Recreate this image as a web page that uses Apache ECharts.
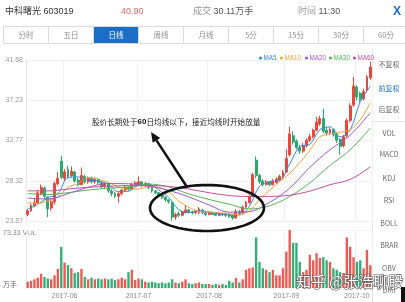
<!DOCTYPE html>
<html><head><meta charset="utf-8">
<script src="https://cdn.jsdelivr.net/npm/echarts@6/dist/echarts.min.js"></script>
<style>html,body{margin:0;padding:0;background:#fff}#c{width:405px;height:302px}</style>
</head><body><div id="c"></div>
<script>
// ---- categories (trading days) ----
const holidays = ['2017-05-29','2017-05-30','2017-10-02','2017-10-03','2017-10-04','2017-10-05','2017-10-06'];
const dates = [];
for (let t = Date.UTC(2017,4,15); t <= Date.UTC(2017,9,13); t += 86400000) {
  const d = new Date(t), wd = d.getUTCDay(), s = d.toISOString().slice(0,10);
  if (wd === 0 || wd === 6 || holidays.includes(s)) continue;
  dates.push(s);
}
// ---- price data ----
const opens  = [24.6,25.0,25.6,25.9,26.9,27.5,26.5,25.3,26.0,28.0,30.5,
  28.6,29.6,28.9,29.3,28.4,27.9,28.8,28.2,28.6,28.2,28.5,28.1,27.7,28.0,27.2,26.9,26.6,26.9,27.3,27.6,27.4,27.9,
  27.9,28.2,27.8,28.0,27.6,27.2,27.0,26.7,26.5,26.2,25.9,24.3,24.7,24.5,24.8,25.1,24.9,24.8,24.8,25.1,24.8,
  24.6,24.8,24.7,24.5,24.7,24.7,24.6,24.5,24.2,24.9,24.8,25.4,25.9,26.6,30.6,28.9,28.3,27.9,28.2,27.9,28.1,28.4,28.8,
  29.3,31.2,33.3,32.7,32.0,31.6,32.2,32.8,33.2,33.9,34.6,35.2,33.9,33.6,34.0,33.5,32.9,32.2,33.3,35.0,36.7,38.7,38.0,37.4,38.3,39.7];
const closes = [25.0,25.6,25.9,27.0,27.6,26.6,25.2,26.0,28.0,28.6,28.7,
  29.3,28.8,29.4,28.3,27.9,28.9,28.2,28.6,28.2,28.5,28.1,27.7,28.0,27.2,26.9,26.6,26.9,27.3,27.6,27.4,27.9,28.1,
  28.2,27.8,28.0,27.6,27.2,27.0,26.7,26.5,26.2,26.0,24.3,24.6,24.5,24.9,25.1,24.9,24.8,25.0,25.2,24.8,24.6,
  24.8,24.6,24.5,24.7,24.6,24.5,24.4,24.2,24.9,24.7,25.4,25.9,26.6,29.0,28.9,28.2,27.9,28.2,27.9,28.3,28.5,28.8,29.3,
  30.8,33.5,32.6,32.0,31.6,32.2,32.8,33.2,33.9,34.8,35.2,33.8,33.6,34.0,33.4,32.8,32.1,33.2,35.0,36.6,38.8,37.6,37.3,38.2,39.8,40.9];
const highs  = [25.2,25.8,26.3,27.3,27.9,27.7,26.6,26.4,28.2,29.3,31.1,
  29.6,30.0,29.9,29.4,28.6,29.8,29.0,28.8,28.8,28.7,28.6,28.3,28.2,28.1,27.4,27.1,27.1,27.4,27.8,27.7,28.1,28.3,
  28.8,28.3,28.2,28.1,27.7,27.3,27.1,26.8,26.6,26.3,26.0,24.8,24.9,25.0,25.6,25.2,25.0,25.1,25.4,25.2,24.9,
  24.9,24.9,24.8,24.9,24.8,24.8,24.7,24.6,25.2,25.1,25.6,26.1,26.8,29.2,31.0,29.1,28.5,28.4,28.3,28.5,28.7,29.0,29.5,
  31.8,34.3,33.8,32.9,32.3,32.5,33.0,33.5,34.1,35.4,35.5,36.3,34.3,34.2,34.1,33.7,33.0,33.4,35.2,36.9,39.8,38.9,38.2,38.5,40.0,41.5];
const lows   = [24.4,24.9,25.4,25.8,26.7,26.3,24.3,25.0,25.7,27.8,28.5,
  28.3,28.6,28.7,28.1,27.7,27.8,28.0,28.0,28.0,28.0,27.9,27.5,27.5,27.0,26.6,26.4,25.9,26.7,27.1,27.2,27.3,27.7,
  27.7,27.6,27.6,27.4,27.0,26.8,26.5,26.3,26.0,25.8,23.9,24.0,24.3,24.4,24.7,24.7,24.6,24.6,24.6,24.6,24.4,
  24.5,24.5,24.4,24.4,24.4,24.3,24.2,24.0,24.1,24.5,24.7,25.3,25.8,26.5,28.6,28.0,27.7,27.8,27.7,27.8,28.0,28.3,28.6,
  29.2,31.0,32.3,31.8,31.3,31.4,32.0,32.6,33.0,33.8,34.4,33.6,33.3,33.4,33.2,32.5,31.2,32.0,33.1,34.8,36.5,37.2,37.0,37.2,38.1,39.5];
// ---- volume (万手) ----
const volumes = [8,9,11,13,18,14,12,11,16,24,52,
  32,29,25,19,20,24,14,11,13,11,12,11,12,11,12,10,11,13,11,20,23,10,
  12,11,8,7,8,7,6,7,6,7,11,7,6,8,11,6,5,6,7,5,5,
  5,4,5,4,5,4,9,7,12.6,7,11,23,25,26,64,33,25,23,20,23,16,16,25,
  46,73.33,57,57,33,20,23,42,35,44,38,39,35,33,25,23,20,19,64,52,39,33,35,25,48,29];
// ---- moving averages read at sampled days ----
const maIdx3 = [0,3,6,9,12,15,18,21,24,27,30,33,36,39,42,45,48,51,54,57,60,63,66,69,72,75,78,81,84,87,90,93,96,99,102];
const ma5  = [25.2,25.7,26.46,26.88,28.68,28.74,28.38,28.32,27.9,27.12,27.16,27.84,27.94,27.3,26.48,25.12,24.8,25.0,24.88,24.64,24.54,24.54,25.5,27.72,28.22,28.34,30.18,32.1,32.36,33.98,34.28,33.18,33.94,37.06,38.76];
const ma10 = [25.9,25.8,26.1,26.55,27.58,28.02,28.67,28.49,28.13,27.67,27.37,27.41,27.68,27.59,27.12,26.06,25.37,24.93,24.86,24.79,24.67,24.59,24.99,26.22,27.27,28.23,29.14,30.33,31.68,33.18,33.51,33.68,33.97,35.08,36.95];
const maIdx6 = [0,6,12,18,24,30,36,42,48,54,60,66,72,78,84,90,96,102];
const ma20 = [26.4,26.3,26.9,27.6,28.01,27.99,27.74,27.26,26.53,25.64,24.85,24.91,25.93,27.5,29.81,31.75,33.36,35.85];
const ma30 = [26.9,26.8,27.0,27.3,27.5,27.63,27.96,27.63,26.86,26.25,25.73,25.2,25.55,26.58,28.09,30.02,31.74,34.15];
const ma60 = [27.2,27.2,27.4,27.6,27.7,27.8,27.8,27.7,27.4,27.0,26.68,26.58,26.59,26.72,27.17,27.88,28.47,29.85];
// ---- axis ticks ----
const priceMin = 23.87, priceMax = 41.68;
const priceTicks = ['23.87','28.32','32.77','37.23','41.68'];
const volMax = 73.33;
const maNames = ['MA5','MA10','MA20','MA30','MA60'];
const tabs = ['分时','五日','日线','周线','月线','5分','15分','30分','60分'];
const sideItems = ['不复权','前复权','后复权','VOL','MACD','KDJ','RSI','BOLL','BRAR','OBV','DMI'];

const UP = '#e8473d', DOWN = '#2fa870';
const maColors = ['#3a8ad6','#f0a43a','#a256c8','#56b45a','#c2509f'];
const FONT = "'Liberation Sans','Noto Sans CJK SC',sans-serif";
const CJK = "'Noto Sans CJK SC',sans-serif";
const isMonthStart = i => i > 0 && dates[i].slice(5,7) !== dates[i-1].slice(5,7);

const chart = echarts.init(document.getElementById('c'), null, {renderer:'canvas'});

const maSeries = [[maIdx3,ma5],[maIdx3,ma10],[maIdx6,ma20],[maIdx6,ma30],[maIdx6,ma60]].map((p,k)=>({
  name: maNames[k], type:'line', xAxisIndex:0, yAxisIndex:0,
  data: p[0].map((ix,j)=>[ix, p[1][j]]),
  showSymbol:false, smooth:0.35, lineStyle:{width:1, color:maColors[k]}, itemStyle:{color:maColors[k]},
  z:3, silent:true
}));

// ellipse outline points
const ell = [];
for (let a = 0; a < 360; a += 5) {
  const r = a*Math.PI/180;
  ell.push([207 + 57*Math.cos(r), 208 + 23*Math.sin(r)]);
}
// arrow
const tip = [151,132], start = [187,187];
const dx = start[0]-tip[0], dy = start[1]-tip[1], L = Math.hypot(dx,dy);
const ux = dx/L, uy = dy/L, px = -uy, py = ux;
const base = [tip[0]+ux*10, tip[1]+uy*10];

const graphic = [
  {type:'text', x:5, y:12, style:{text:'中科曙光 603019', fill:'#333', fontSize:9, fontFamily:FONT, verticalAlign:'middle'}},
  {type:'text', x:121, y:12, style:{text:'40.90', fill:'#e06a66', fontSize:9, fontFamily:FONT, verticalAlign:'middle'}},
  {type:'text', x:193, y:12, style:{text:'{a|成交 }{b|30.11万手}', fontFamily:FONT, verticalAlign:'middle',
     rich:{a:{fill:'#999', fontSize:9, fontFamily:FONT}, b:{fill:'#555', fontSize:9, fontFamily:FONT}}}},
  {type:'text', x:298, y:12, style:{text:'{a|时间 }{b|11:30}', fontFamily:FONT, verticalAlign:'middle',
     rich:{a:{fill:'#999', fontSize:9, fontFamily:FONT}, b:{fill:'#555', fontSize:9, fontFamily:FONT}}}},
  {type:'text', x:397, y:12, style:{text:'X', fill:'#1f6cbf', fontSize:12, fontWeight:'bold', fontFamily:FONT, align:'center', verticalAlign:'middle'}},
  // right panel
  {type:'line', shape:{x1:372.5,y1:48,x2:372.5,y2:302}, style:{stroke:'#e3e3e3', lineWidth:1}},
  {type:'line', shape:{x1:372,y1:121.5,x2:405,y2:121.5}, style:{stroke:'#e3e3e3', lineWidth:1}},
  // annotation
  {type:'text', x:92, y:122, z:20, style:{text:'{a|股价长期处于}{b|60}{a|日均线以下，接近均线时开始放量}', verticalAlign:'middle',
     rich:{a:{fill:'#222', fontSize:7.6, fontFamily:CJK}, b:{fill:'#111', fontSize:8, fontWeight:'bold', fontFamily:FONT}}}},
  {type:'line', z:20, shape:{x1:start[0],y1:start[1],x2:base[0],y2:base[1]}, style:{stroke:'#111', lineWidth:2.5}},
  {type:'polygon', z:20, shape:{points:[tip,[base[0]+px*4.5,base[1]+py*4.5],[base[0]-px*4.5,base[1]-py*4.5]]}, style:{fill:'#111'}},
  {type:'polygon', z:20, shape:{points:ell}, style:{fill:'none', stroke:'#111', lineWidth:2.6}},
  // volume labels
  {type:'text', x:3, y:233, style:{text:volMax.toFixed(2)+' VOL', fill:'#888', fontSize:7, fontFamily:FONT, verticalAlign:'middle'}},
  {type:'text', x:3, y:284, style:{text:'万手', fill:'#666', fontSize:7, fontFamily:CJK, verticalAlign:'middle'}},
  // watermark
  {type:'text', x:296, y:281, z:30, style:{text:'知乎 @张浩聊股', fill:'#ffffff', stroke:'#555', lineWidth:1.2, fontSize:15, fontFamily:CJK, verticalAlign:'middle'}},
  {type:'rect', z:30, shape:{x:401, y:287, width:4, height:15}, style:{fill:'#111'}}
];
// legend (compact, coloured text)
const legendX = [259,280,305,329,353];
maNames.forEach((n,k)=>{
  graphic.push({type:'circle', z:10, shape:{cx:legendX[k]+1.5, cy:58, r:1.6}, style:{fill:maColors[k]}});
  graphic.push({type:'text', z:10, x:legendX[k]+4.5, y:58, style:{text:n, fill:maColors[k], fontSize:6.3, fontFamily:FONT, verticalAlign:'middle'}});
});
tabs.forEach((t,k)=>{
  graphic.push({type:'rect', shape:{x:3+45*k+0.5, y:26.5, width:45, height:17}, style:{fill:k===2?'#1c6dc4':'#fff', stroke:'#dadada', lineWidth:1}});
  graphic.push({type:'text', x:3+45*k+23, y:35, style:{text:t, fill:k===2?'#fff':'#8c8c8c', fontSize:7.5, fontFamily:CJK, align:'center', verticalAlign:'middle'}});
});
const sideY = [64,88,109,133,154,178,200,223,245,268,290];
sideItems.forEach((t,k)=>{
  graphic.push({type:'text', x:389, y:sideY[k], style:{text:t, fill:k===1?'#2a6fc0':'#666', fontSize:7, fontFamily:CJK, align:'center', verticalAlign:'middle'}});
});

chart.setOption({
  animation:false,
  backgroundColor:'#fff',
  textStyle:{fontFamily:FONT},
  grid:[
    {left:26, right:33, top:60, height:161},
    {left:26, right:33, top:230, height:58}
  ],
  xAxis:[
    {type:'category', gridIndex:0, data:dates, boundaryGap:true,
     axisLine:{show:false}, axisTick:{show:false}, axisLabel:{show:false},
     splitLine:{show:true, interval:(i)=>isMonthStart(i), lineStyle:{color:'#f1f1f1'}}},
    {type:'category', gridIndex:1, data:dates, boundaryGap:true,
     axisLine:{show:false}, axisTick:{show:false},
     axisLabel:{interval:(i)=>isMonthStart(i), formatter:v=>v.slice(0,7), color:'#888', fontSize:7, margin:5},
     splitLine:{show:true, interval:(i)=>isMonthStart(i), lineStyle:{color:'#f1f1f1'}}}
  ],
  yAxis:[
    {type:'value', gridIndex:0, min:priceMin, max:priceMax, interval:(priceMax-priceMin)/4,
     axisLine:{show:true, lineStyle:{color:'#e6e6e6'}}, axisTick:{show:false},
     axisLabel:{color:'#999', fontSize:7, margin:3, formatter:v=>priceTicks[Math.round((v-priceMin)/((priceMax-priceMin)/4))]},
     splitLine:{lineStyle:{color:'#f1f1f1'}}},
    {type:'value', gridIndex:1, min:0, max:volMax, interval:volMax,
     axisLine:{show:true, lineStyle:{color:'#e6e6e6'}}, axisTick:{show:false}, axisLabel:{show:false},
     splitLine:{lineStyle:{color:'#f4f4f4'}}}
  ],
  series:[
    {type:'candlestick', name:'K', xAxisIndex:0, yAxisIndex:0,
     data: dates.map((_,i)=>[opens[i],closes[i],lows[i],highs[i]]),
     barWidth:'72%',
     itemStyle:{color:UP, color0:DOWN, borderColor:UP, borderColor0:DOWN, borderWidth:1}, z:2, silent:true},
    ...maSeries,
    {type:'bar', name:'VOL', xAxisIndex:1, yAxisIndex:1, barWidth:'70%', silent:true,
     data: volumes.map((v,i)=>({value:v, itemStyle:{color: closes[i]>=opens[i] ? '#ec5a52' : '#35ad78'}}))}
  ],
  graphic: graphic
});
</script>
</body></html>
